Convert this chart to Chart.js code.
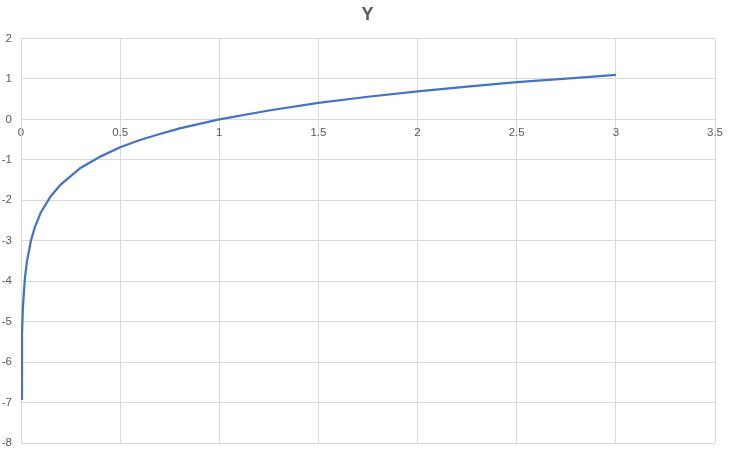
<!DOCTYPE html>
<html>
<head>
<meta charset="utf-8">
<script src="https://cdn.jsdelivr.net/npm/chart.js@4/dist/chart.umd.min.js"></script>
<style>
html,body{margin:0;padding:0;background:#fff;}
#wrap{width:735px;height:461px;}
</style>
</head>
<body>
<div id="wrap"><canvas id="c"></canvas></div>
<script>
const title = "Y";
const xValues = [0.001, 0.005, 0.01, 0.02, 0.03, 0.05, 0.07, 0.1, 0.15, 0.2, 0.3, 0.4, 0.5, 0.6, 0.7, 0.8, 0.9, 1, 1.25, 1.5, 1.75, 2, 2.25, 2.5, 2.75, 3];
const yValues = [-6.91, -5.3, -4.61, -3.91, -3.51, -3.0, -2.66, -2.3, -1.9, -1.61, -1.2, -0.92, -0.69, -0.51, -0.36, -0.22, -0.11, 0, 0.22, 0.41, 0.56, 0.69, 0.81, 0.92, 1.01, 1.1];
const xTicks = [0, 0.5, 1, 1.5, 2, 2.5, 3, 3.5];
const yTicks = [-8, -7, -6, -5, -4, -3, -2, -1, 0, 1, 2];

const points = xValues.map((x, i) => ({x: x, y: yValues[i]}));
const gridColor = '#d9d9d9';
const textColor = '#595959';

new Chart(document.getElementById('c'), {
  type: 'scatter',
  data: {
    datasets: [{
      label: title,
      data: points,
      showLine: true,
      borderColor: '#4472C4',
      backgroundColor: '#4472C4',
      borderWidth: 2.25,
      pointRadius: 0,
      tension: 0
    }]
  },
  options: {
    responsive: true,
    maintainAspectRatio: false,
    animation: false,
    layout: {padding: {top: 0, right: 0, bottom: 18, left: 0}},
    plugins: {
      legend: {display: false},
      tooltip: {enabled: false},
      title: {
        display: true,
        text: title,
        color: textColor,
        font: {family: 'Liberation Sans', size: 18, weight: 'bold'},
        padding: {top: 4, bottom: 12.9}
      }
    },
    scales: {
      x: {
        type: 'linear',
        position: {y: 0},
        min: xTicks[0],
        max: xTicks[xTicks.length - 1],
        afterBuildTicks: s => { s.ticks = xTicks.map(v => ({value: v})); },
        afterFit: s => { s.height = 0; },
        grid: {color: gridColor, drawTicks: false, lineWidth: 1},
        border: {color: gridColor},
        ticks: {
          color: textColor,
          padding: 7,
          maxRotation: 0,
          font: {family: 'Liberation Sans', size: 11.5},
          callback: v => String(v)
        }
      },
      y: {
        type: 'linear',
        min: yTicks[0],
        max: yTicks[yTicks.length - 1],
        afterBuildTicks: s => { s.ticks = yTicks.map(v => ({value: v})); },
        afterFit: s => { s.width = 21; },
        grid: {color: gridColor, drawTicks: false, lineWidth: 1},
        border: {color: gridColor},
        ticks: {
          color: textColor,
          padding: 9,
          font: {family: 'Liberation Sans', size: 11.5},
          callback: v => String(v)
        }
      },
      yRight: {
        type: 'linear',
        position: 'right',
        min: yTicks[0],
        max: yTicks[yTicks.length - 1],
        afterFit: s => { s.width = 20; },
        grid: {display: false, drawTicks: false},
        border: {display: false},
        ticks: {display: false}
      }
    }
  }
});
</script>
</body>
</html>
